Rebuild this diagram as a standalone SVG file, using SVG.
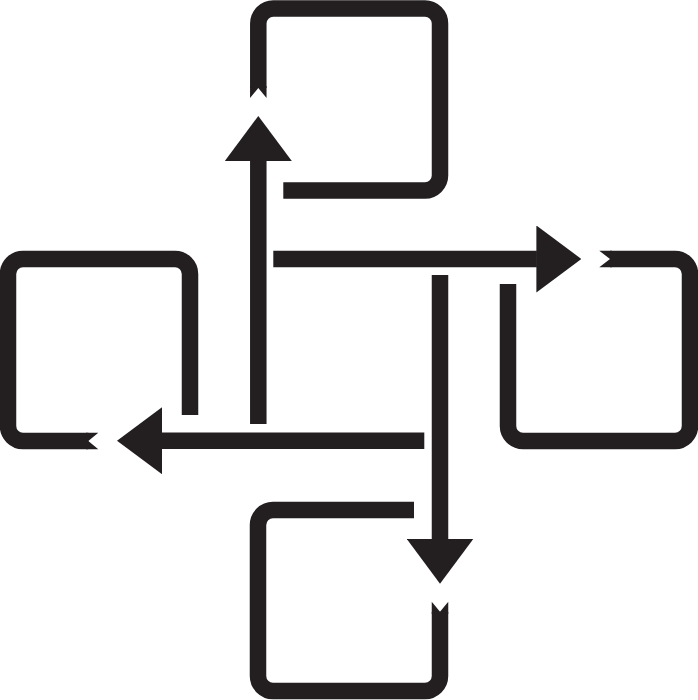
<svg xmlns="http://www.w3.org/2000/svg" width="698" height="700" viewBox="0 0 698 700">
  <style>
    .box { fill: none; stroke: #231f20; stroke-width: 16.5; stroke-linecap: butt; stroke-linejoin: round; }
    .end { fill: #231f20; stroke: none; }
    .conn { fill: none; stroke: #231f20; stroke-width: 16.5; stroke-linecap: butt; }
  </style>
  <defs>
    <marker id="head" viewBox="0 -33.5 45 67" markerUnits="userSpaceOnUse" markerWidth="45" markerHeight="67" refX="0.5" refY="0" orient="auto">
      <path d="M0,-33.5 L45,0 L0,33.5 Z" fill="#231f20"/>
    </marker>
  </defs>
  <rect width="698" height="700" fill="#ffffff"/>

  <g id="node-top">
    <path class="box" d="M258.3,88 V23.5 A15,15 0 0 1 273.3,8.5 H425 A15,15 0 0 1 440,23.5 V175.5 A15,15 0 0 1 425,190.5 H283.3"/>
    <polygon class="end" points="250.05,98 250.05,86 266.55,86 266.55,98 258.3,88"/>
  </g>

  <g id="node-right">
    <path class="box" d="M610,259 H675 A15,15 0 0 1 690,274 V426 A15,15 0 0 1 675,441 H523 A15,15 0 0 1 508,426 V284"/>
    <polygon class="end" points="599.3,250.75 612,250.75 612,267.25 599.3,267.25 610,259"/>
  </g>

  <g id="node-left">
    <path class="box" d="M190,415 V274 A15,15 0 0 0 175,259 H23 A15,15 0 0 0 8,274 V426 A15,15 0 0 0 23,441 H88.3"/>
    <polygon class="end" points="98.3,432.75 86,432.75 86,449.25 98.3,449.25 88.3,441"/>
  </g>

  <g id="node-bottom">
    <path class="box" d="M414,510 H273 A15,15 0 0 0 258,525 V676 A15,15 0 0 0 273,691 H425 A15,15 0 0 0 440,676 V611.7"/>
    <polygon class="end" points="431.75,601.7 431.75,614 448.25,614 448.25,601.7 440,611.7"/>
  </g>

  <g id="connectors">
    <line class="conn" x1="258.3" y1="424" x2="258.3" y2="160.5" marker-end="url(#head)"/>
    <line class="conn" x1="273.3" y1="259" x2="536.9" y2="259" marker-end="url(#head)"/>
    <line class="conn" x1="440" y1="275" x2="440" y2="539.2" marker-end="url(#head)"/>
    <line class="conn" x1="424.3" y1="440.7" x2="161.5" y2="440.7" marker-end="url(#head)"/>
  </g>
</svg>
